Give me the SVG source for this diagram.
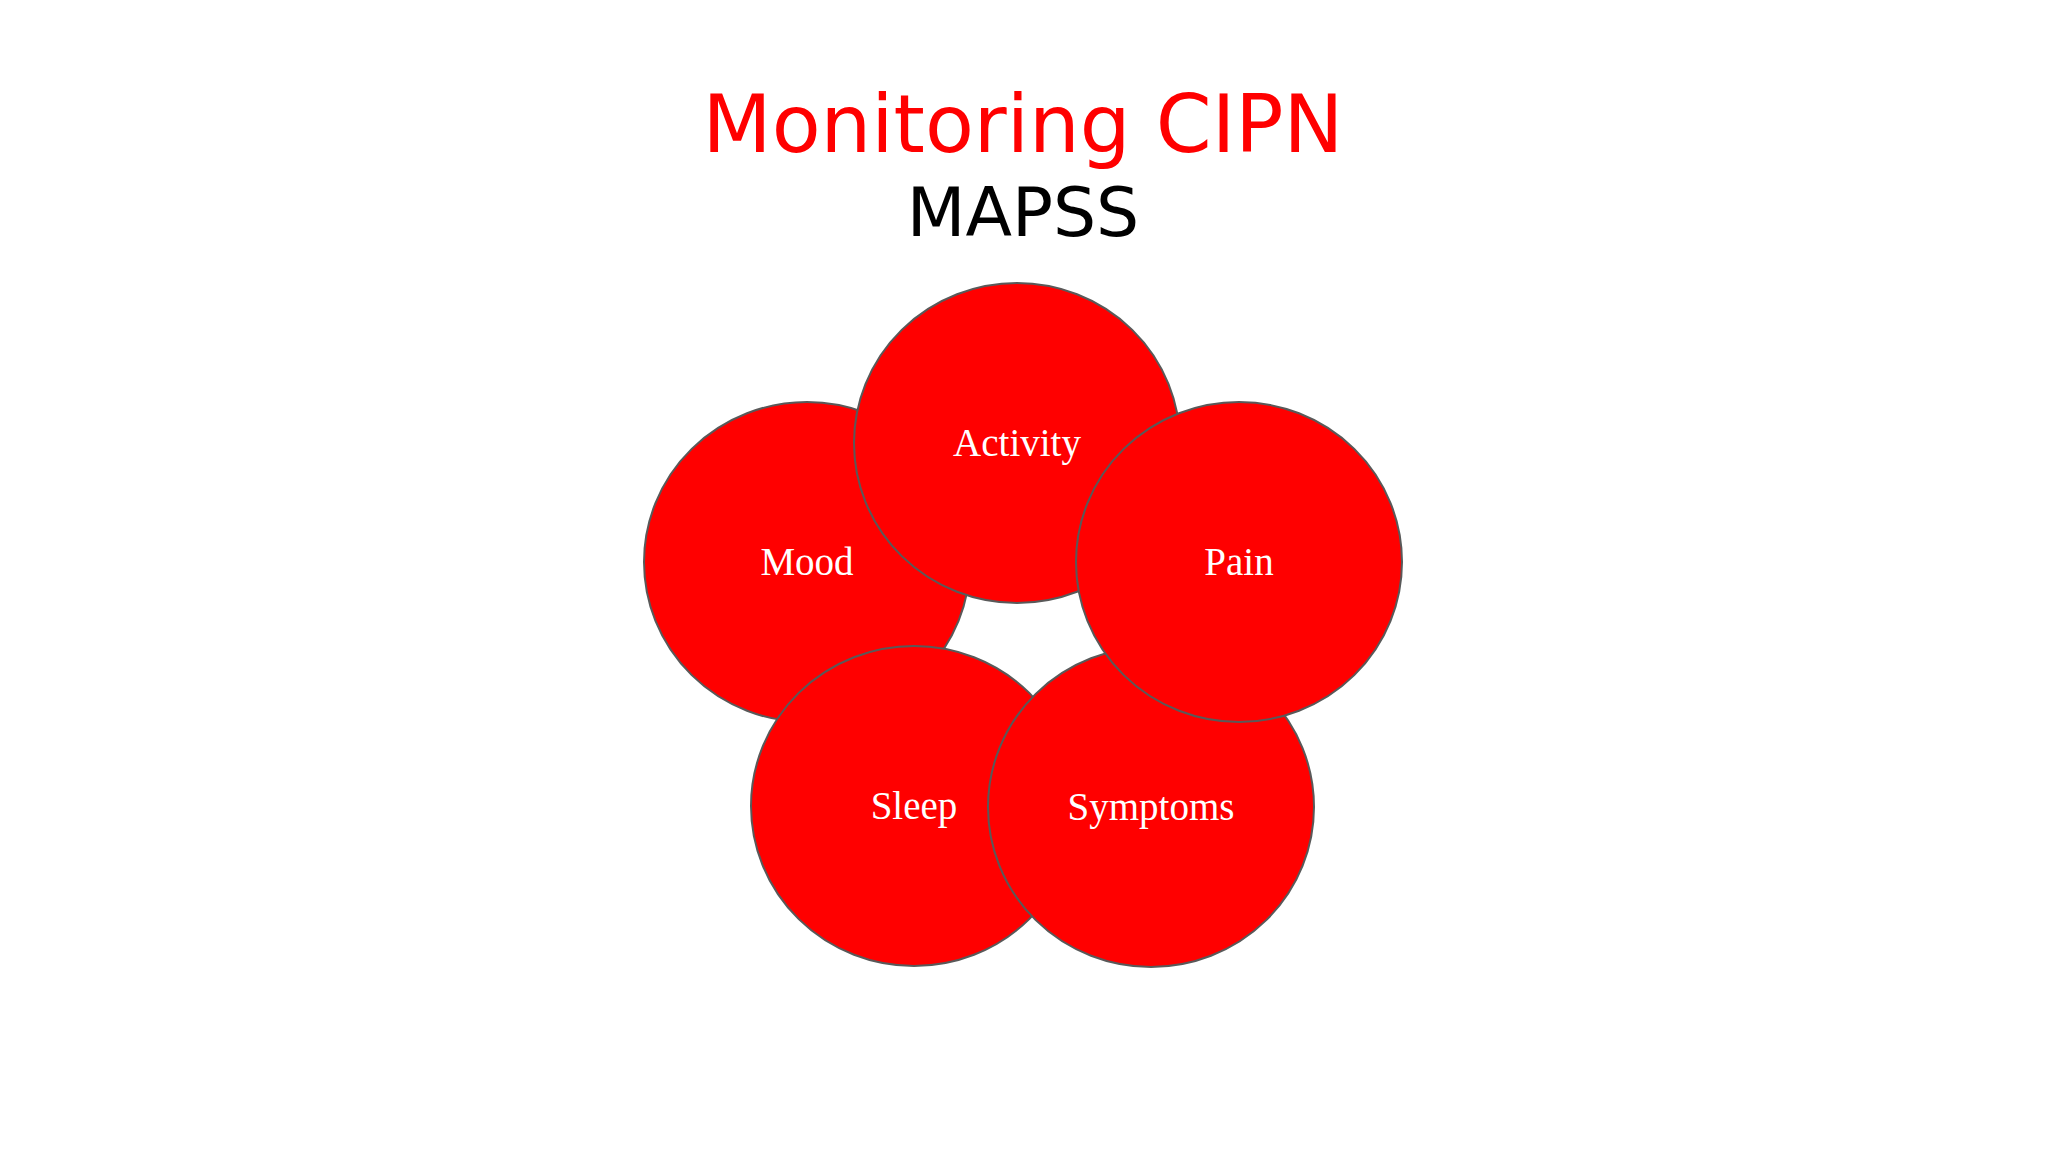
<svg xmlns="http://www.w3.org/2000/svg" width="2048" height="1152" viewBox="0 0 2048 1152">
<style>
.c{fill:#ff0000;stroke:#595959;stroke-width:2}
.l{fill:#fff;font-family:"Liberation Serif",serif;font-size:39px;text-anchor:middle}
</style>
<rect width="2048" height="1152" fill="#fff"/>
<text x="1023" y="152" font-family="DejaVu Sans,sans-serif" font-size="80" fill="#ff0000" text-anchor="middle">Monitoring CIPN</text>
<text x="1023" y="236" font-family="DejaVu Sans,sans-serif" font-size="68" fill="#000" text-anchor="middle">MAPSS</text>
<g id="mood"><ellipse class="c" cx="807" cy="562" rx="163" ry="160"/><text class="l" x="807" y="575">Mood</text></g>
<g id="activity"><ellipse class="c" cx="1017" cy="443" rx="163" ry="160"/><text class="l" x="1017" y="456">Activity</text></g>
<g id="sleep"><ellipse class="c" cx="914" cy="806" rx="163" ry="160"/><text class="l" x="914" y="819">Sleep</text></g>
<g id="symptoms"><ellipse class="c" cx="1151" cy="807" rx="163" ry="160"/><text class="l" x="1151" y="820">Symptoms</text></g>
<g id="pain"><ellipse class="c" cx="1239" cy="562" rx="163" ry="160"/><text class="l" x="1239" y="575">Pain</text></g>
<g id="connectors"/>
</svg>
